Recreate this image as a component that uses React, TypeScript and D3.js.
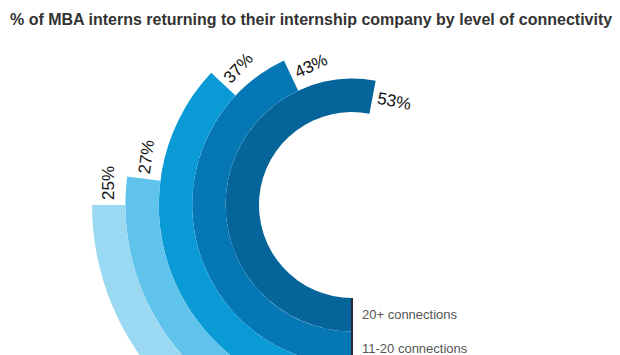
import React from "react";
import * as d3 from "d3";

const title = "% of MBA interns returning to their internship company by level of connectivity";
const categories = ["20+ connections", "11-20 connections", "6-10 connections", "1-5 connections", "0 connections"];
const values = [53, 43, 37, 27, 25];
const colors = ["#05649a", "#0677b5", "#0a9bd7", "#5fc3ec", "#9bd9f3"];

const W = 620;
const H = 355;
const cx = 352;
const cy = 205;
const innerR = 93;
const outerR = 260;

export default function App() {
  const radius = d3
    .scaleBand<string>()
    .domain(categories)
    .range([innerR, outerR])
    .paddingInner(0)
    .paddingOuter(0);
  const angle = d3.scaleLinear().domain([0, 100]).range([Math.PI, 3 * Math.PI]);
  const arcGen = d3.arc<any>();

  return (
    <div style={{ position: "fixed", left: 0, top: 0 }}>
      <svg width={W} height={H} style={{ display: "block", background: "#fff" }}>
        <text
          x={10}
          y={25}
          fontFamily="Liberation Sans, Arial, sans-serif"
          fontWeight="bold"
          fontSize={16}
          fill="#333"
        >
          {title}
        </text>
        <g transform={`translate(${cx},${cy})`}>
          {categories.map((c, i) => {
            const r0 = radius(c)!;
            const r1 = r0 + radius.bandwidth();
            const a = angle(values[i]);
            const d = arcGen({
              innerRadius: r0,
              outerRadius: r1,
              startAngle: Math.PI,
              endAngle: a,
            }) as string;
            return <path key={c} d={d} fill={colors[i]} />;
          })}
          {categories.map((c, i) => {
            const rm = radius(c)! + radius.bandwidth() / 2;
            const a = angle(values[i]);
            const ex = rm * Math.sin(a);
            const ey = -rm * Math.cos(a);
            const rot = (a * 180) / Math.PI - 360;
            return (
              <text
                key={"l" + c}
                transform={`translate(${ex},${ey}) rotate(${rot}) translate(5,0)`}
                fontFamily="Liberation Sans, Arial, sans-serif"
                fontSize={17}
                fill="#111"
                dominantBaseline="central"
              >
                {values[i]}%
              </text>
            );
          })}
          <line
            x1={0}
            x2={0}
            y1={innerR}
            y2={outerR}
            stroke="#2a2a3a"
            strokeWidth={2}
          />
          {categories
            .filter((c) => cy + radius(c)! + radius.bandwidth() / 2 + 6 <= H)
            .map((c) => {
              const rm = radius(c)! + radius.bandwidth() / 2;
              return (
                <text
                  key={"g" + c}
                  x={10}
                  y={rm}
                  fontFamily="Liberation Sans, Arial, sans-serif"
                  fontSize={13}
                  fill="#555"
                  dominantBaseline="central"
                >
                  {c}
                </text>
              );
            })}
        </g>
      </svg>
    </div>
  );
}
